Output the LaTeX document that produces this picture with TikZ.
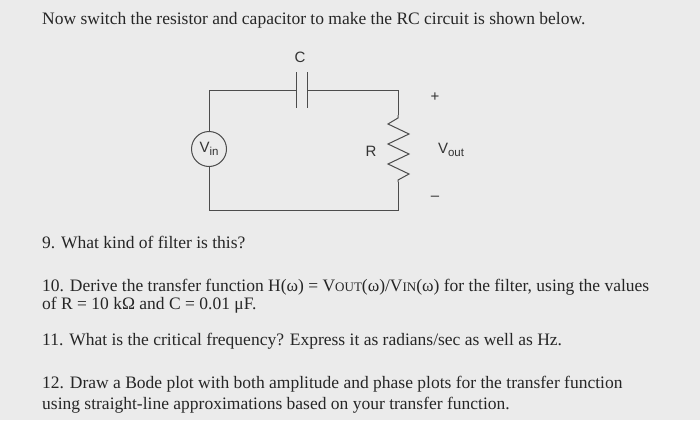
\documentclass[tikz,border=0pt]{standalone}
\usepackage{fontspec}
\setmainfont{Liberation Serif}
\newfontfamily\circfont{Liberation Sans}
\begin{document}
\begin{tikzpicture}[x=1pt,y=-1pt,
  txt/.style={anchor=base west,inner sep=0pt,font=\fontsize{17.5}{20}\selectfont,text=black!85},
  ctxt/.style={inner sep=0pt,font=\circfont\fontsize{15}{17}\selectfont,text=black!80},
  wire/.style={draw=black!70,line width=1pt}]
\fill[black!8] (0,0) rectangle (700,420);
\useasboundingbox (0,0) rectangle (700,420);
\node[txt] (t0) at (42,25) {Now switch the resistor and capacitor to make the RC circuit is shown below.};
% circuit
\node[circle,wire,minimum size=35pt,inner sep=0pt,ctxt] (vin) at (209,149) {V\raisebox{-0.4ex}{\fontsize{11.5}{12}\selectfont in}};
\coordinate (tl) at (209,90);
\coordinate (bl) at (209,210);
\coordinate (tr) at (398,90);
\coordinate (br) at (398,210);
\coordinate (c1) at (296,90);
\coordinate (c2) at (307,90);
\coordinate (r1) at (398,115);
\coordinate (r2) at (398,182);
\draw[wire] (vin.north) -- (tl) -- (c1);
\draw[wire] (296,72) -- (296,108);
\draw[wire] (307,72) -- (307,108);
\draw[wire] (c2) -- (tr) -- (r1);
\draw[wire] (r1) -- (398,118) -- (388,124) -- (409,134) -- (388,144) -- (409,154) -- (388,164) -- (409,174) -- (398,180) -- (r2);
\draw[wire] (r2) -- (br) -- (bl) -- (vin.south);
\node[ctxt] (cl) at (300,57) {C};
\node[ctxt] (rl) at (371,151) {R};
\node[ctxt] (pl) at (435,97) {+};
\node[ctxt] (vo) at (451,150) {V\raisebox{-0.4ex}{\fontsize{11.5}{12}\selectfont out}};
\node[ctxt] (ml) at (435,198) {–};
% questions
\node[txt] (q9) at (42,248) {9. What kind of filter is this?};
\node[txt] (q10) at (42,291) {10. Derive the transfer function H(ω) = V{\fontsize{13}{14}\selectfont OUT}(ω)/V{\fontsize{13}{14}\selectfont IN}(ω) for the filter, using the values};
\node[txt] (q10b) at (42,309) {of R = 10 kΩ and C = 0.01 μF.};
\node[txt] (q11) at (42,345) {11. What is the critical frequency? Express it as radians/sec as well as Hz.};
\node[txt] (q12) at (42,388) {12. Draw a Bode plot with both amplitude and phase plots for the transfer function};
\node[txt] (q12b) at (42,409) {using straight-line approximations based on your transfer function.};
\end{tikzpicture}
\end{document}
